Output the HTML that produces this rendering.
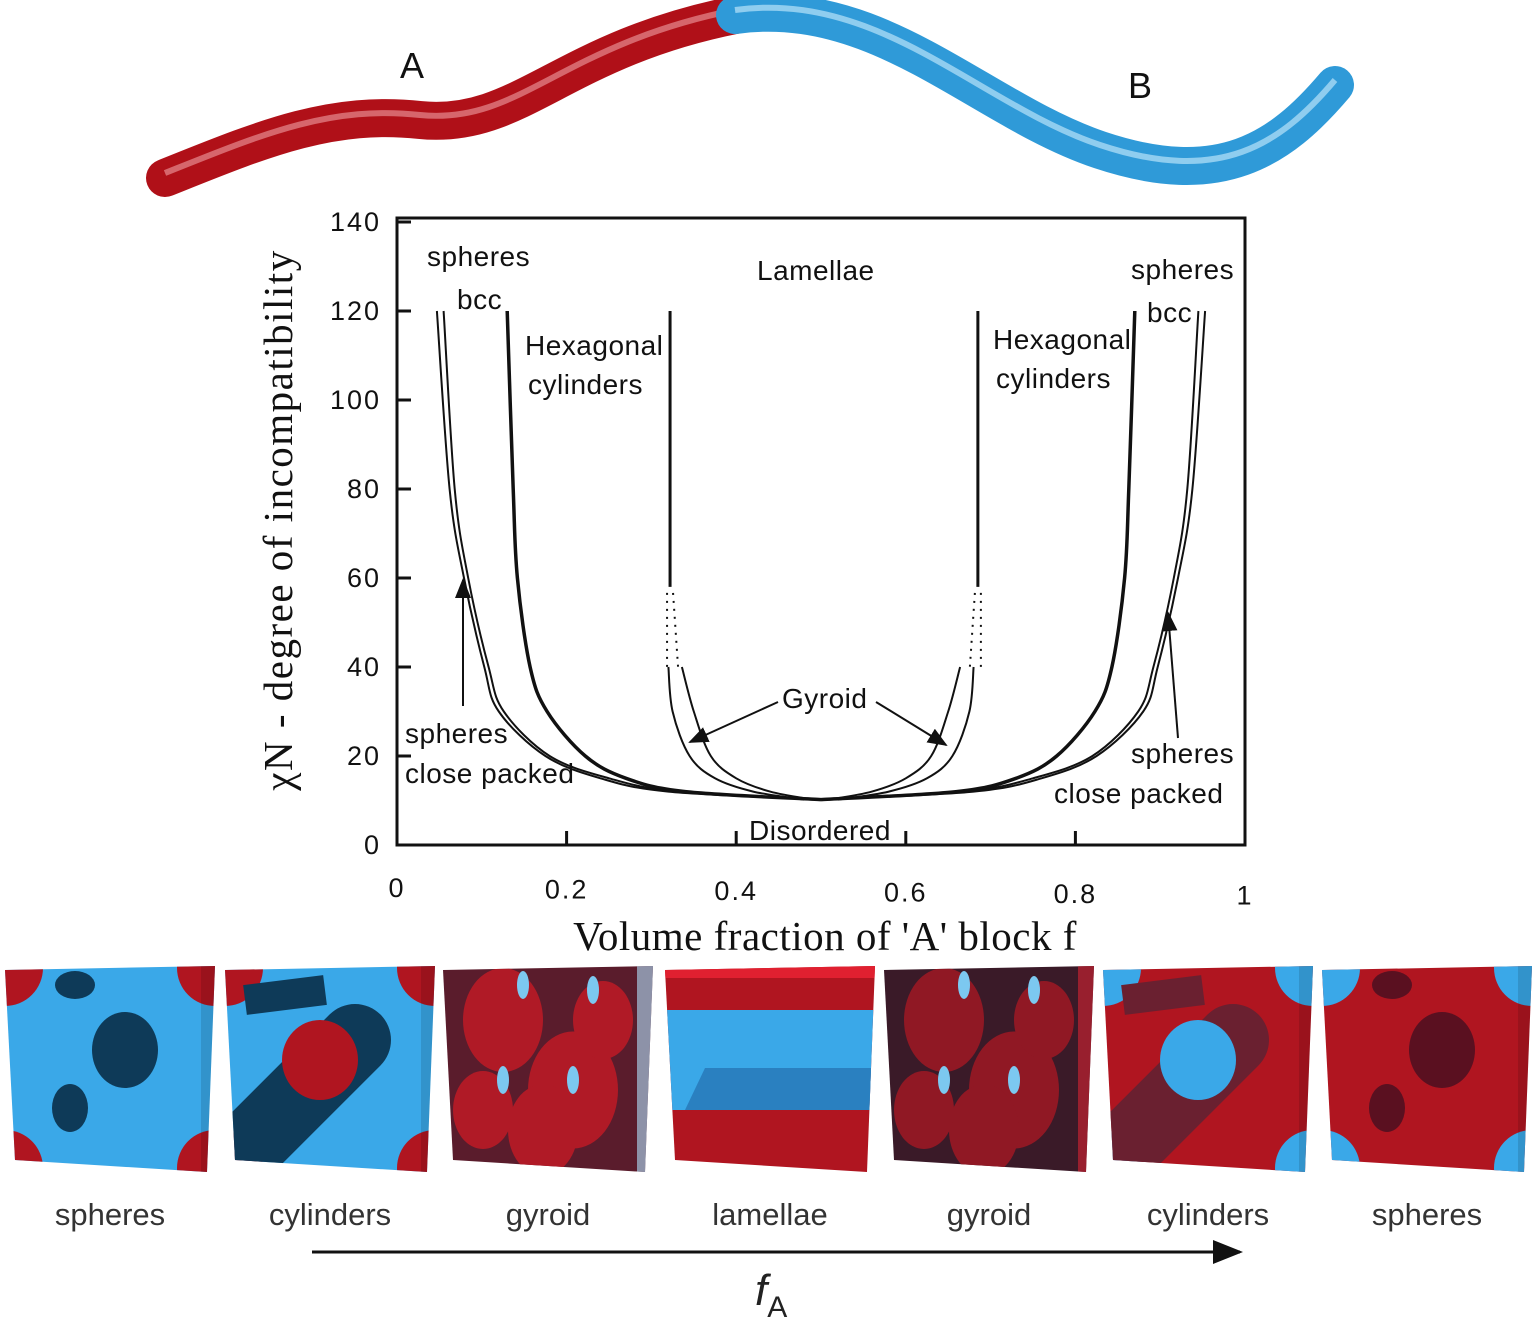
<!DOCTYPE html>
<html><head><meta charset="utf-8"><style>
body{margin:0;background:#fff;}
svg{display:block;}
.lbl{font-family:"Liberation Sans",sans-serif;font-size:28px;fill:#111;letter-spacing:0.5px;}
.tick{font-family:"Liberation Sans",sans-serif;font-size:27px;fill:#111;letter-spacing:2px;}
.cap{font-family:"Liberation Sans",sans-serif;font-size:31px;fill:#333;}
.ser{font-family:"Liberation Serif",serif;font-size:40px;fill:#111;}
</style></head><body>
<svg id="s" width="1539" height="1344" viewBox="0 0 1539 1344">
<defs>
<marker id="ah" markerWidth="10" markerHeight="8" refX="9" refY="4" orient="auto"><path d="M0,0 L10,4 L0,8 z" fill="#111"/></marker>
</defs>
<g>
<path d="M165,178 C260,140 330,110 420,120 C520,130 560,50 735,15" stroke="#b01018" stroke-width="38" fill="none" stroke-linecap="round"/>
<path d="M165,178 C260,140 330,110 420,120 C520,130 560,50 735,15" stroke="#f0a0a5" stroke-width="6" fill="none" opacity="0.6" transform="translate(0,-5)"/>
<path d="M735,15 C880,-5 980,110 1100,150 C1220,190 1280,150 1335,85" stroke="#2f9ad8" stroke-width="38" fill="none" stroke-linecap="round"/>
<path d="M735,15 C880,-5 980,110 1100,150 C1220,190 1280,150 1335,85" stroke="#b8e2fa" stroke-width="6" fill="none" opacity="0.7" transform="translate(0,-5)"/>
<text x="400" y="78" class="lbl" style="font-size:36px">A</text>
<text x="1128" y="98" class="lbl" style="font-size:36px">B</text>
</g>
<g id="chart"></g>
<g id="cubes"></g>
<line x1="312" y1="1252" x2="1240" y2="1252" stroke="#111" stroke-width="3" marker-end="url(#ah)"/>
<text x="755" y="1305" style="font-family:'Liberation Sans',sans-serif;font-size:44px;font-style:italic" fill="#222">f<tspan font-size="30" dy="12" font-style="normal">A</tspan></text>
</svg>
<script>
const chiLevels=[120,80,60,40,30,20,15,12,10.2];
const sphereOuterF=[0.047,0.062,0.079,0.103,0.120,0.175,0.24,0.32,0.5];
const sphereInnerF=[0.055,0.068,0.084,0.108,0.126,0.18,0.25,0.33,0.5];
const cylF=[0.130,0.137,0.142,0.157,0.177,0.222,0.27,0.34,0.5];
const hexLeftF=0.322, hexRightF=0.685, hexTop=120, hexBot=58, dotBot=40;
const gyChi=[40,30,20,15,12,10.2];
const gyInnerF=[0.320,0.325,0.345,0.375,0.42,0.48];
const gyOuterF=[0.336,0.35,0.37,0.40,0.44,0.49];
const xTicks=[0,0.2,0.4,0.6,0.8,1];
const xTickLbl=["0","0.2","0.4","0.6","0.8","1"];
const yTicks=[0,20,40,60,80,100,120,140];

const NS="http://www.w3.org/2000/svg";
const X0=397,X1=1245,Y0=845,Y140=222;
const sx=f=>X0+f*(X1-X0), sy=v=>Y0-v*(Y0-Y140)/140;
const g=document.getElementById('chart');
function el(t,a,p){const e=document.createElementNS(NS,t);for(const k in a)e.setAttribute(k,a[k]);(p||g).appendChild(e);return e;}
let e=el('rect',{x:X0,y:218,width:X1-X0,height:Y0-218,fill:'none',stroke:'#111','stroke-width':3});


yTicks.forEach(v=>{const y=sy(v);
 let t=el('line',{x1:X0,x2:X0+14,y1:y,y2:y,stroke:'#111','stroke-width':3});
 
 
 let l=el('text',{x:X0-16,y:y+9,'text-anchor':'end',class:'tick'});l.textContent=v;
 
 
});
xTicks.forEach((f,i)=>{const x=sx(f);
 if(i>0&&i<xTicks.length-1){let t=el('line',{x1:x,x2:x,y1:Y0,y2:Y0-14,stroke:'#111','stroke-width':3});
 
 }
 let l=el('text',{x:x+(i===xTicks.length-1?0:0),y:897+i*1.5,'text-anchor':'middle',class:'tick'});l.textContent=xTickLbl[i];
 
 
});
function smooth(p){
 let d='M'+p[0][0].toFixed(1)+','+p[0][1].toFixed(1);
 for(let i=0;i<p.length-1;i++){
  const p0=p[i-1]||p[i],p1=p[i],p2=p[i+1],p3=p[i+2]||p2;
  const c1=[p1[0]+(p2[0]-p0[0])/6,p1[1]+(p2[1]-p0[1])/6];
  const c2=[p2[0]-(p3[0]-p1[0])/6,p2[1]-(p3[1]-p1[1])/6];
  d+=` C${c1[0].toFixed(1)},${c1[1].toFixed(1)} ${c2[0].toFixed(1)},${c2[1].toFixed(1)} ${p2[0].toFixed(1)},${p2[1].toFixed(1)}`;
 }
 return d;
}
function curve(fs,cs,w,name){
 const pts=fs.map((f,i)=>[sx(f),sy(cs[i])]);
 const mir=fs.map((f,i)=>[sx(1-f),sy(cs[i])]);
 [pts,mir].forEach((p,k)=>{
  let c=el('path',{d:smooth(p),fill:'none',stroke:'#111','stroke-width':w,'stroke-linejoin':'round'});
  
  
 });
}
curve(sphereOuterF,chiLevels,2,'sphere-boundary-outer');
curve(sphereInnerF,chiLevels,2,'sphere-boundary-inner');
curve(cylF,chiLevels,3.5,'cylinder-boundary');
curve(gyInnerF,gyChi,2,'gyroid-boundary-inner');
curve(gyOuterF,gyChi,2,'gyroid-boundary-outer');
[hexLeftF,hexRightF].forEach((f,k)=>{
 let a=el('line',{x1:sx(f),x2:sx(f),y1:sy(hexTop),y2:sy(hexBot),stroke:'#111','stroke-width':3});
 
 
 let b=el('line',{x1:sx(f)+(k?-3:3),x2:sx(f)+(k?-8:8),y1:sy(hexBot)+6,y2:sy(dotBot),stroke:'#111','stroke-width':2,'stroke-dasharray':'2,6'});
 
 
 let c=el('line',{x1:sx(f)+(k?3:-3),x2:sx(f)+(k?3:-3),y1:sy(hexBot)+6,y2:sy(dotBot),stroke:'#111','stroke-width':2,'stroke-dasharray':'2,6'});
 
 
});
const labels=[["spheres",427,266],["bcc",457,309],["Lamellae",757,280],["Hexagonal",525,355],["cylinders",528,394],["spheres",1131,279],["bcc",1147,322],["Hexagonal",993,349],["cylinders",996,388],["Gyroid",782,708],["spheres",405,743],["close  packed",405,783],["Disordered",749,840],["spheres",1131,763],["close  packed",1054,803]];
labels.forEach(l=>{let t=el('text',{x:l[1],y:l[2],class:'lbl'});t.textContent=l[0];
 
 });
[[778,702,690,742],[876,702,946,745],[463,706,463,580],[1178,738,1168,613]].forEach(a=>{
 let t=el('line',{x1:a[0],y1:a[1],x2:a[2],y2:a[3],stroke:'#111','stroke-width':2,'marker-end':'url(#ah)'});
 
 });
let yt=el('text',{x:0,y:0,class:'ser',transform:'translate(292,520) rotate(-90)','text-anchor':'middle',style:'font-size:41px;letter-spacing:1.5px'});
yt.textContent='χN - degree of incompatibility';


let xt=el('text',{x:825,y:950,class:'ser','text-anchor':'middle',style:'font-size:41px;letter-spacing:0.5px'});
xt.textContent="Volume fraction of 'A' block f";



// cubes
const cg=document.getElementById('cubes');
const cubeX=[5,225,443,665,884,1103,1322];
const caps=["spheres","cylinders","gyroid","lamellae","gyroid","cylinders","spheres"];
const RED='#b01520',BLUE='#3aa8e8',DB='#0e3a58';
cubeX.forEach((x,i)=>{
 const w=210;
 const cube=el('g',{},cg);
 
 
 const body=i<3?BLUE:RED, other=i<3?RED:BLUE;
 const cid='c'+i;
 const cp=el('clipPath',{id:cid},cube);
 el('polygon',{points:`${x},${970} ${x+w},${966} ${x+w-8},${1172} ${x+10},${1160}`},cp);
 const inner=el('g',{'clip-path':`url(#${cid})`},cube);
 if(caps[i]==='lamellae'){
  el('rect',{x:x,y:960,width:w,height:220,fill:RED},inner);
  el('rect',{x:x,y:1010,width:w,height:100,fill:BLUE},inner);
  el('polygon',{points:`${x+20},1110 ${x+40},1068 ${x+w},1068 ${x+w},1110`,fill:'#2a80c0'},inner);
  el('rect',{x:x,y:966,width:w,height:12,fill:'#e02030'},inner);
 } else if(caps[i]==='gyroid'){
  el('rect',{x:x,y:960,width:w,height:220,fill:i===2?'#5a1c2c':'#3a1a28'},inner);
  [[60,60,40],[130,130,45],[100,170,35],[160,60,30],[40,150,30]].forEach(c=>el('ellipse',{cx:x+c[0],cy:960+c[1],rx:c[2],ry:c[2]*1.3,fill:i===2?'#b01a26':'#901824'},inner));
  [[80,25],[150,30],[130,120],[60,120]].forEach(c=>el('ellipse',{cx:x+c[0],cy:960+c[1],rx:6,ry:14,fill:'#7cc8f0'},inner));
  el('rect',{x:x+w-16,y:960,width:16,height:220,fill:i===2?'#9ab0c8':'#b02030',opacity:0.8},inner);
 } else {
  el('rect',{x:x,y:960,width:w,height:220,fill:body},inner);
  [[0,0],[w,0],[0,200],[w,200]].forEach(c=>el('circle',{cx:x+c[0],cy:968+c[1],r:38,fill:other},inner));
  if(caps[i]==='cylinders'){
   el('line',{x1:x+20,y1:1150,x2:x+130,y2:1040,stroke:i<3?DB:'#6a2030','stroke-width':72,'stroke-linecap':'round'},inner);
   el('line',{x1:x+100,y1:990,x2:x+20,y2:1000,stroke:i<3?DB:'#6a2030','stroke-width':30},inner);
   el('ellipse',{cx:x+95,cy:1060,rx:38,ry:40,fill:other},inner);
  } else {
   el('ellipse',{cx:x+120,cy:1050,rx:33,ry:38,fill:i<3?DB:'#5a1020'},inner);
   el('ellipse',{cx:x+65,cy:1108,rx:18,ry:24,fill:i<3?DB:'#5a1020'},inner);
   el('ellipse',{cx:x+70,cy:985,rx:20,ry:14,fill:i<3?DB:'#5a1020'},inner);
  }
  el('rect',{x:x+w-14,y:960,width:14,height:220,fill:'#000',opacity:0.12},inner);
 }
 const t=el('text',{x:x+w/2,y:1225,'text-anchor':'middle',class:'cap'},cg);
 t.textContent=caps[i];
 
 
});
</script>
</body></html>
